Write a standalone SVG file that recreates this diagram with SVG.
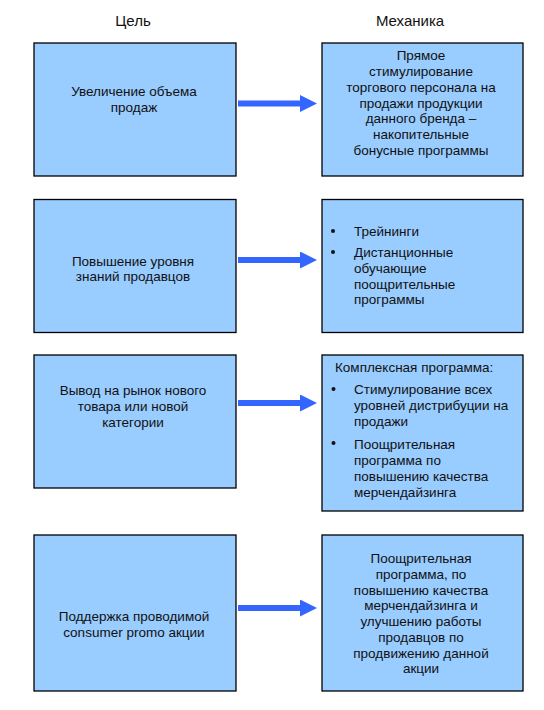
<svg xmlns="http://www.w3.org/2000/svg" width="544" height="710" viewBox="0 0 544 710">
<defs>
<style>
.box{fill:#99CCFF;stroke:#000;stroke-width:1.3}
text{font-family:"Liberation Sans",Arial,sans-serif;font-size:13.5px;fill:#111}
.c{text-anchor:middle}
.t{font-size:15px}
.arrow{stroke:#3366FF;stroke-width:6;fill:none}
.dot{fill:#111}
</style>
<marker id="head" markerUnits="userSpaceOnUse" markerWidth="17" markerHeight="17" refX="0" refY="8.5" orient="auto" viewBox="0 0 17 17">
<path d="M0,0 L17,8.5 L0,17 z" fill="#3366FF"/>
</marker>
</defs>
<rect width="544" height="710" fill="#fff"/>
<g id="titles">
<text class="c t" x="133" y="25.5">Цель</text>
<text class="c t" x="410" y="25.5">Механика</text>
</g>
<g id="goal1">
<rect class="box" x="34" y="43" width="202" height="133"/>
<text class="c" x="134" y="96">Увеличение объема</text>
<text class="c" x="134" y="112">продаж</text>
</g>
<g id="mech1">
<rect class="box" x="322" y="43" width="201" height="133"/>
<text class="c" x="421" y="60">Прямое</text>
<text class="c" x="421" y="76">стимулирование</text>
<text class="c" x="421" y="91.5">торгового персонала на</text>
<text class="c" x="421" y="107.5">продажи продукции</text>
<text class="c" x="421" y="123">данного бренда –</text>
<text class="c" x="421" y="139">накопительные</text>
<text class="c" x="421" y="154.5">бонусные программы</text>
</g>
<g id="goal2">
<rect class="box" x="34" y="199.5" width="202" height="133"/>
<text class="c" x="133" y="266">Повышение уровня</text>
<text class="c" x="133" y="281">знаний продавцов</text>
</g>
<g id="mech2">
<rect class="box" x="322" y="199.5" width="201" height="133"/>
<circle class="dot" cx="333" cy="231" r="2"/>
<text x="354" y="236">Трейнинги</text>
<circle class="dot" cx="333" cy="252" r="2"/>
<text x="354" y="257">Дистанционные</text>
<text x="354" y="273">обучающие</text>
<text x="354" y="288.5">поощрительные</text>
<text x="354" y="304">программы</text>
</g>
<g id="goal3">
<rect class="box" x="34" y="355" width="202" height="133"/>
<text class="c" x="133" y="395">Вывод на рынок нового</text>
<text class="c" x="133" y="411">товара или новой</text>
<text class="c" x="133" y="427">категории</text>
</g>
<g id="mech3">
<rect class="box" x="322" y="355" width="201" height="156"/>
<text x="335" y="372">Комплексная программа:</text>
<circle class="dot" cx="333.5" cy="389" r="2"/>
<text x="354" y="394">Стимулирование всех</text>
<text x="354" y="410">уровней дистрибуции на</text>
<text x="354" y="425.5">продажи</text>
<circle class="dot" cx="333.5" cy="443" r="2"/>
<text x="354" y="449">Поощрительная</text>
<text x="354" y="465">программа по</text>
<text x="354" y="481">повышению качества</text>
<text x="354" y="496.5">мерчендайзинга</text>
</g>
<g id="goal4">
<rect class="box" x="34" y="535" width="202" height="156"/>
<text class="c" x="134" y="621">Поддержка проводимой</text>
<text class="c" x="134" y="636.5">consumer promo акции</text>
</g>
<g id="mech4">
<rect class="box" x="322" y="535" width="201" height="156"/>
<text class="c" x="421" y="563">Поощрительная</text>
<text class="c" x="421" y="578.7">программа, по</text>
<text class="c" x="421" y="594.5">повышению качества</text>
<text class="c" x="421" y="610.2">мерчендайзинга и</text>
<text class="c" x="421" y="626">улучшению работы</text>
<text class="c" x="421" y="641.7">продавцов по</text>
<text class="c" x="421" y="657.5">продвижению данной</text>
<text class="c" x="421" y="673.2">акции</text>
</g>
<g id="connectors">
<line class="arrow" x1="238" y1="103.5" x2="300" y2="103.5" marker-end="url(#head)"/>
<line class="arrow" x1="238" y1="260" x2="300" y2="260" marker-end="url(#head)"/>
<line class="arrow" x1="238" y1="403" x2="300" y2="403" marker-end="url(#head)"/>
<line class="arrow" x1="238" y1="608" x2="300" y2="608" marker-end="url(#head)"/>
</g>
</svg>
